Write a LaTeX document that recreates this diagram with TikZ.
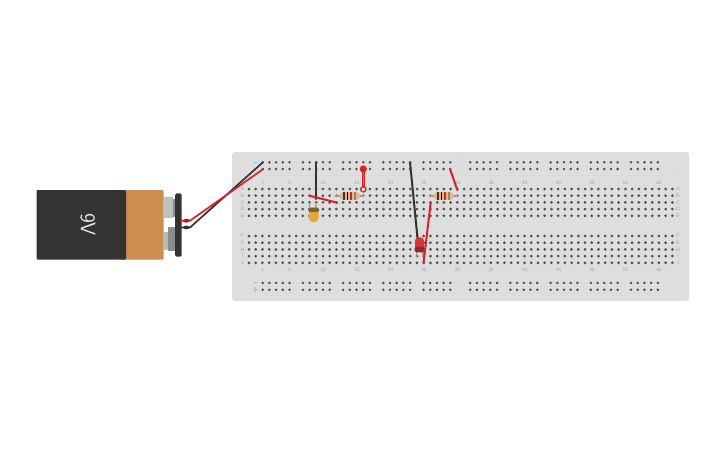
\documentclass[tikz,border=0pt]{standalone}
\usepackage{xcolor}
\usepackage{tikz}
\usetikzlibrary{
  calc
}
\definecolor{boardgray}{HTML}{DEDEDE}
\definecolor{holegray}{HTML}{505050}
\definecolor{labelgray}{HTML}{A0A0A0}
\definecolor{battdark}{HTML}{333333}
\definecolor{battorange}{HTML}{CF8C50}
\definecolor{wirered}{HTML}{D8222A}
\definecolor{wireblack}{HTML}{333333}
\definecolor{restan}{HTML}{DDBB88}
\definecolor{leadgray}{HTML}{9A9A9A}
\definecolor{ledyellow}{HTML}{E8A63C}
\definecolor{ledband}{HTML}{7A6436}
\definecolor{ledred}{HTML}{D93338}
\definecolor{ledreddark}{HTML}{8E2A2C}
\tikzset{
  hole/.style={circle,fill=holegray,inner sep=0pt,minimum size=3pt},
  tiny label/.style={text=labelgray,font=\sffamily\fontsize{5}{5}\selectfont,inner sep=0pt},
  redwire/.style={draw=wirered,line width=2pt,line cap=round},
  blackwire/.style={draw=wireblack,line width=2pt,line cap=round},
  lead/.style={draw=leadgray,line width=1.3pt}
}
\newcommand{\resistor}[2]{
  \draw [lead] (#1-15,#2) -- (#1+14,#2);
  \fill [restan,rounded corners=2.5pt] (#1-10,#2-3.7) rectangle (#1+9.5,#2+3.7);
  \fill [black!60!brown] (#1-6.7,#2-3.7) rectangle (#1-5.3,#2+3.7);
  \fill [black] (#1-3.1,#2-3.7) rectangle (#1-1.6,#2+3.7);
  \fill [wirered] (#1-0.2,#2-3.7) rectangle (#1+1.6,#2+3.7);
  \fill [restan!70!black] (#1+4.4,#2-3.7) rectangle (#1+5.8,#2+3.7);
}
\begin{document}
\begin{tikzpicture}[x=1pt,y=-1pt]
    \useasboundingbox (0,0) rectangle (725,453);
    % board
    \fill [boardgray,rounded corners=3pt] (232,152) rectangle (689,301);
    \draw [black!14,line width=0.5pt]
      (243,175.7) -- (678,175.7) (243,275.7) -- (678,275.7)
      (461.7,152) -- (461.7,175.7) (461.7,275.7) -- (461.7,292);
    \foreach \gx in {262.7,302.9,343.1,383.3,423.5,470.2,510.4,550.6,590.8,631}
      \foreach \n in {0,...,4}
        \foreach \ry in {162.3,169,282.9,289.8}
          \node [hole,minimum size=2.8pt] at (\gx+\n*6.7,\ry) {};
    \foreach \cn in {0,...,63}
      \foreach \ry in {189,195.7,202.4,209.1,215.8,236,242.7,249.4,256.1,262.8}
        \node [hole] at (249+\cn*6.72,\ry) {};
    % labels
    \foreach \l/\ry in {A/189,B/195.7,C/202.4,D/209.1,E/215.8,F/236,G/242.7,H/249.4,I/256.1,J/262.8} {
      \node [tiny label] at (242.5,\ry) {\l};
      \node [tiny label] at (678,\ry) {\l};
    }
    \foreach \t in {1,5,10,15,20,25,30,35,40,45,50,55,60} {
      \node [tiny label] at (262.7+\t*6.72-6.72,183) {\t};
      \node [tiny label] at (262.7+\t*6.72-6.72,270) {\t};
    }
    \draw [cyan!50,line width=0.9pt] (253,162.3) -- (258,162.3) (253,282.9) -- (258,282.9);
    \draw [red!40,line width=0.9pt] (253,289.8) -- (258,289.8) (255.5,287.3) -- (255.5,292.3);
    % battery
    \fill [black!25] (164,196.7) rectangle (172.7,218.3);
    \fill [black!45] (172.7,198.5) rectangle (176,216.5);
    \fill [black!28] (164,231.7) rectangle (168.5,250);
    \fill [black!45] (168.3,226.7) rectangle (176,250.7);
    \fill [battorange,rounded corners=1pt] (120,190) rectangle (163.7,259.5);
    \fill [battdark,rounded corners=1pt] (36.5,190) -- (126,190) -- (126,259.5) -- (36.5,259.5) -- cycle;
    \node [rotate=-90,text=white!90!black,font=\sffamily\fontsize{21}{21}\selectfont] (volt) at (88,224.5) {9V};
    \fill [battdark,rounded corners=1.5pt] (175.2,193.3) rectangle (181.6,256.7);
    % wires of the clip
    \coordinate (clipred) at (181,220.7);
    \coordinate (clipblack) at (181,227.5);
    \draw [blackwire,line width=1.7pt] (clipblack) -- (190,227.5) -- (262.9,162.3);
    \draw [redwire,line width=1.7pt] (clipred) -- (190,220.7) -- (263.3,169);
    \fill [wirered!80!black] (186.4,220.7) ellipse (3.2 and 1.9);
    \fill [wireblack] (186.4,227.5) ellipse (3.2 and 1.9);
    % first led
    \draw [lead] (309.3,202.7) -- (309.9,210) (316,202.7) -- (316,210);
    \fill [ledyellow,rounded corners=4pt] (308.8,207.5) rectangle (318.6,222);
    \fill [ledband,rounded corners=1.5pt] (308.4,207.5) rectangle (319,212);
    \draw [blackwire] (316.3,162.3) -- (316.3,199);
    \draw [redwire] (309.3,195.7) -- (337.3,202.7);
    % resistors
    \resistor{350}{196}
    \resistor{444}{196}
    % probe
    \draw [wirered,line width=2.4pt] (363.3,169) -- (363.3,189.3);
    \draw [black!35!cyan!60!gray,line width=0.6pt] (363.3,169) -- (363.3,189.3);
    \fill [wirered] (363.3,169) circle (3.6);
    \draw [wirered,fill=white,line width=1.4pt] (363.3,189.3) circle (2.6);
    % second led
    \draw [blackwire] (410,162.3) -- (417.5,238);
    \draw [lead] (416.3,250) -- (416.3,256.5) (423,250) -- (423,256.5);
    \fill [ledred,rounded corners=3.5pt] (415,237.4) rectangle (424,251);
    \fill [ledreddark,rounded corners=1.5pt] (414.7,246.7) rectangle (424.3,252.4);
    \draw [redwire] (430.7,202.4) -- (423.5,263);
    \draw [redwire] (450,169) -- (457.3,190);
  \end{tikzpicture}
\end{document}
